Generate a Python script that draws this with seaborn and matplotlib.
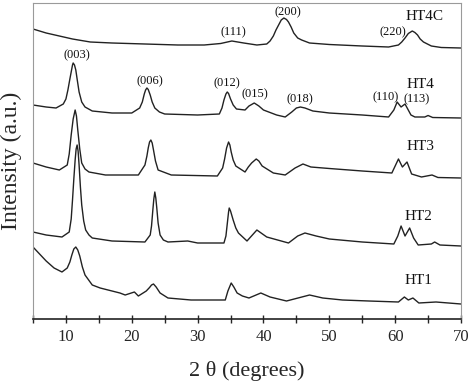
import pandas as pd
import seaborn as sns
import matplotlib
matplotlib.use("Agg")
import matplotlib.pyplot as plt

# readings: 2theta (deg) and stacked intensity (a.u.)
ht4c_x = [5, 6, 7, 9, 11, 13.7, 17, 22, 27, 31, 33.5, 35.2, 37, 39, 40.5, 41.0, 41.5, 41.9, 42.3,
          42.7, 43.1, 43.5, 43.8, 44.2, 44.6, 45.2, 45.8, 47, 50, 55, 59, 60.5, 61.0, 61.5, 62.0,
          62.6, 63.0, 63.4, 63.8, 64.3, 65.5, 67, 70]
ht4c_y = [290, 288, 286, 283, 280, 277, 276, 275, 274, 274, 275.5, 278, 276, 274, 275, 278, 283, 289, 294,
          299, 301, 299.5, 297, 292, 286, 281, 279, 276, 274.5, 273, 272, 274, 277, 281, 285.5,
          288, 286.5, 284, 280, 277, 273, 271.5, 271]

ht4_x = [5, 7, 8.5, 9.6, 10.0, 10.3, 10.6, 10.8, 11.0, 11.1, 11.3, 11.5, 11.7, 12.0, 12.4, 12.9,
         14, 17, 20, 21.2, 21.6, 21.9, 22.1, 22.3, 22.5, 22.8, 23.1, 23.5, 24.2, 25, 30, 33.3,
         33.7, 34.0, 34.3, 34.5, 34.7, 35.0, 35.4, 35.9, 37.2, 37.8, 38.6, 39.3, 40, 42, 43.3,
         44.3, 45.0, 45.6, 46.3, 47.5, 50, 55, 59, 59.8, 60.3, 60.9, 61.5, 62.4, 63, 64.5, 65,
         65.7, 70]
ht4_y = [214, 212, 211, 215, 220, 229, 240, 247, 254, 256, 254, 249, 240, 227, 217, 212,
         208, 206, 206, 211, 217, 225, 229, 231, 229.5, 224, 217, 211, 207, 205, 204, 205,
         211, 219, 225, 227, 225.5, 220, 214, 210, 209, 213, 216, 213, 209, 204, 202,
         207, 211, 212, 211, 208, 206, 204, 202, 209, 217, 212, 215, 204, 202, 202, 203.5,
         201.5, 201]

ht3_x = [5, 7, 9, 10.2, 10.5, 10.8, 11.1, 11.4, 11.6, 11.8, 12.1, 12.4, 12.9, 13.5, 16, 21, 22.0,
         22.3, 22.5, 22.7, 22.9, 23.1, 23.3, 23.6, 24, 26, 33, 33.8, 34.1, 34.4, 34.7, 34.9, 35.1,
         35.4, 35.8, 37.2, 37.7, 38.2, 38.9, 39.3, 39.8, 41.5, 43.3, 44.8, 46, 47.2, 50, 55, 59.5,
         60.0, 60.5, 61.1, 61.8, 62.5, 64, 65.6, 66.5, 70]
ht3_y = [156, 152, 149, 154, 165, 184, 200, 209, 203, 189, 170, 156, 150, 147, 144, 144, 154,
         163, 171, 177, 179, 176, 169, 158, 149, 144, 143, 151, 160, 171, 177, 174, 167,
         159, 153, 147, 152, 156, 160, 158, 153, 146, 144, 151, 155, 152, 150.5, 148, 146,
         153, 160, 152, 157, 145, 142, 144, 141.5, 141]

ht2_x = [5, 7, 9.4, 10.5, 10.8, 11.0, 11.2, 11.4, 11.55, 11.7, 11.85, 12.0, 12.2, 12.4, 12.7, 13,
         13.5, 14, 17, 22, 22.8, 23.0, 23.2, 23.35, 23.5, 23.65, 23.8, 24.0, 24.3, 24.8, 25.5,
         28.5, 30, 34, 34.3, 34.5, 34.7, 34.8, 35.0, 35.4, 35.8, 36.2, 37.5, 39.0, 40.5, 43.8,
         45.2, 46.3, 48, 50, 55, 59.8, 60.4, 60.9, 61.5, 62.2, 62.8, 63.5, 65.5, 66.0, 66.8, 70]
ht2_y = [87, 84, 82, 87, 100, 119, 140, 159, 170, 174, 168, 154, 132, 114, 98, 89,
         84, 81, 78, 77, 84, 93, 109, 120, 127, 121, 111, 96, 84, 79, 77,
         78, 76, 76, 83, 95, 107, 111, 108, 99, 91, 86, 78, 89, 82, 76,
         83, 86, 83, 80, 77, 75, 83, 93, 83, 91, 81, 74, 75, 77, 74, 73]

ht1_x = [5, 6, 7, 8.2, 9.4, 10.2, 10.6, 10.9, 11.2, 11.5, 11.8, 12.1, 12.5, 12.9, 14, 15.2, 17,
         18.2, 19, 20.4, 21.0, 22.2, 22.7, 23.0, 23.3, 23.7, 24.3, 25.5, 29, 34.2, 34.6, 35.1,
         35.5, 36, 36.8, 37.8, 39.6, 41, 43.5, 47, 49, 52, 56, 60.5, 61.4, 62.0, 62.7, 63.6,
         66.2, 70]
ht1_y = [72, 65, 58, 51, 47, 51, 57, 64, 70, 72, 69, 63, 52, 44, 34, 31, 28,
         26, 24, 27, 23, 28, 31.5, 34, 35, 32, 26, 21, 19, 19, 28, 36,
         32, 26, 23, 21, 26, 22, 18, 24, 21, 19, 18, 17, 22, 19, 21, 16,
         17, 15]

traces = {"HT4C": (ht4c_x, ht4c_y), "HT4": (ht4_x, ht4_y), "HT3": (ht3_x, ht3_y),
          "HT2": (ht2_x, ht2_y), "HT1": (ht1_x, ht1_y)}

# sample names and where they sit
names = ["HT4C", "HT4", "HT3", "HT2", "HT1"]
name_x = [64.5, 63.8, 63.8, 63.5, 63.5]
name_y = [302, 234, 172, 102, 39]

# Miller index labels
hkl = ["(003)", "(006)", "(012)", "(015)", "(018)", "(110)", "(113)", "(111)", "(200)", "(220)"]
hkl_x = [11.7, 22.8, 34.5, 38.7, 45.5, 58.5, 63.2, 35.5, 43.7, 59.7]
hkl_y = [264, 238, 236, 225, 220, 222, 220, 287, 307, 287]

sns.set_style("ticks")
plt.rcParams['font.family'] = ['Liberation Serif', 'DejaVu Serif']

fig = plt.figure(figsize=(4.74, 3.83), dpi=100)
ax = fig.add_axes([33 / 474, 64 / 383, 428 / 474, 316 / 383])

for name, (x, y) in traces.items():
    df = pd.DataFrame({"two_theta": x, "intensity": y})
    sns.lineplot(data=df, x="two_theta", y="intensity", ax=ax, color="#222222",
                 linewidth=1.0, estimator=None, sort=False)

for t, x, y in zip(names, name_x, name_y):
    ax.text(x, y, t, fontsize=11, ha="center", va="center", color="#111111")
for t, x, y in zip(hkl, hkl_x, hkl_y):
    ax.text(x, y, t, fontsize=9, ha="center", va="center", color="#111111")

ax.set_xlim(5, 70)
ax.set_ylim(0, 316)
ax.set_xticks(range(5, 71, 5))
ax.set_xticklabels(["" if v % 10 else str(v) for v in range(5, 71, 5)])
ax.set_yticks([])
ax.tick_params(axis="x", direction="inout", length=6, width=1, labelsize=12, pad=4)
ax.set_xlabel("2 θ (degrees)", fontsize=16, labelpad=12)
ax.set_ylabel("Intensity (a.u.)", fontsize=17, labelpad=8)

for side in ["left", "top", "right"]:
    ax.spines[side].set_color("#9a9a9a")
ax.spines["bottom"].set_color("#222222")
ax.spines["bottom"].set_linewidth(1.2)

fig.savefig("out.png", dpi=100)
